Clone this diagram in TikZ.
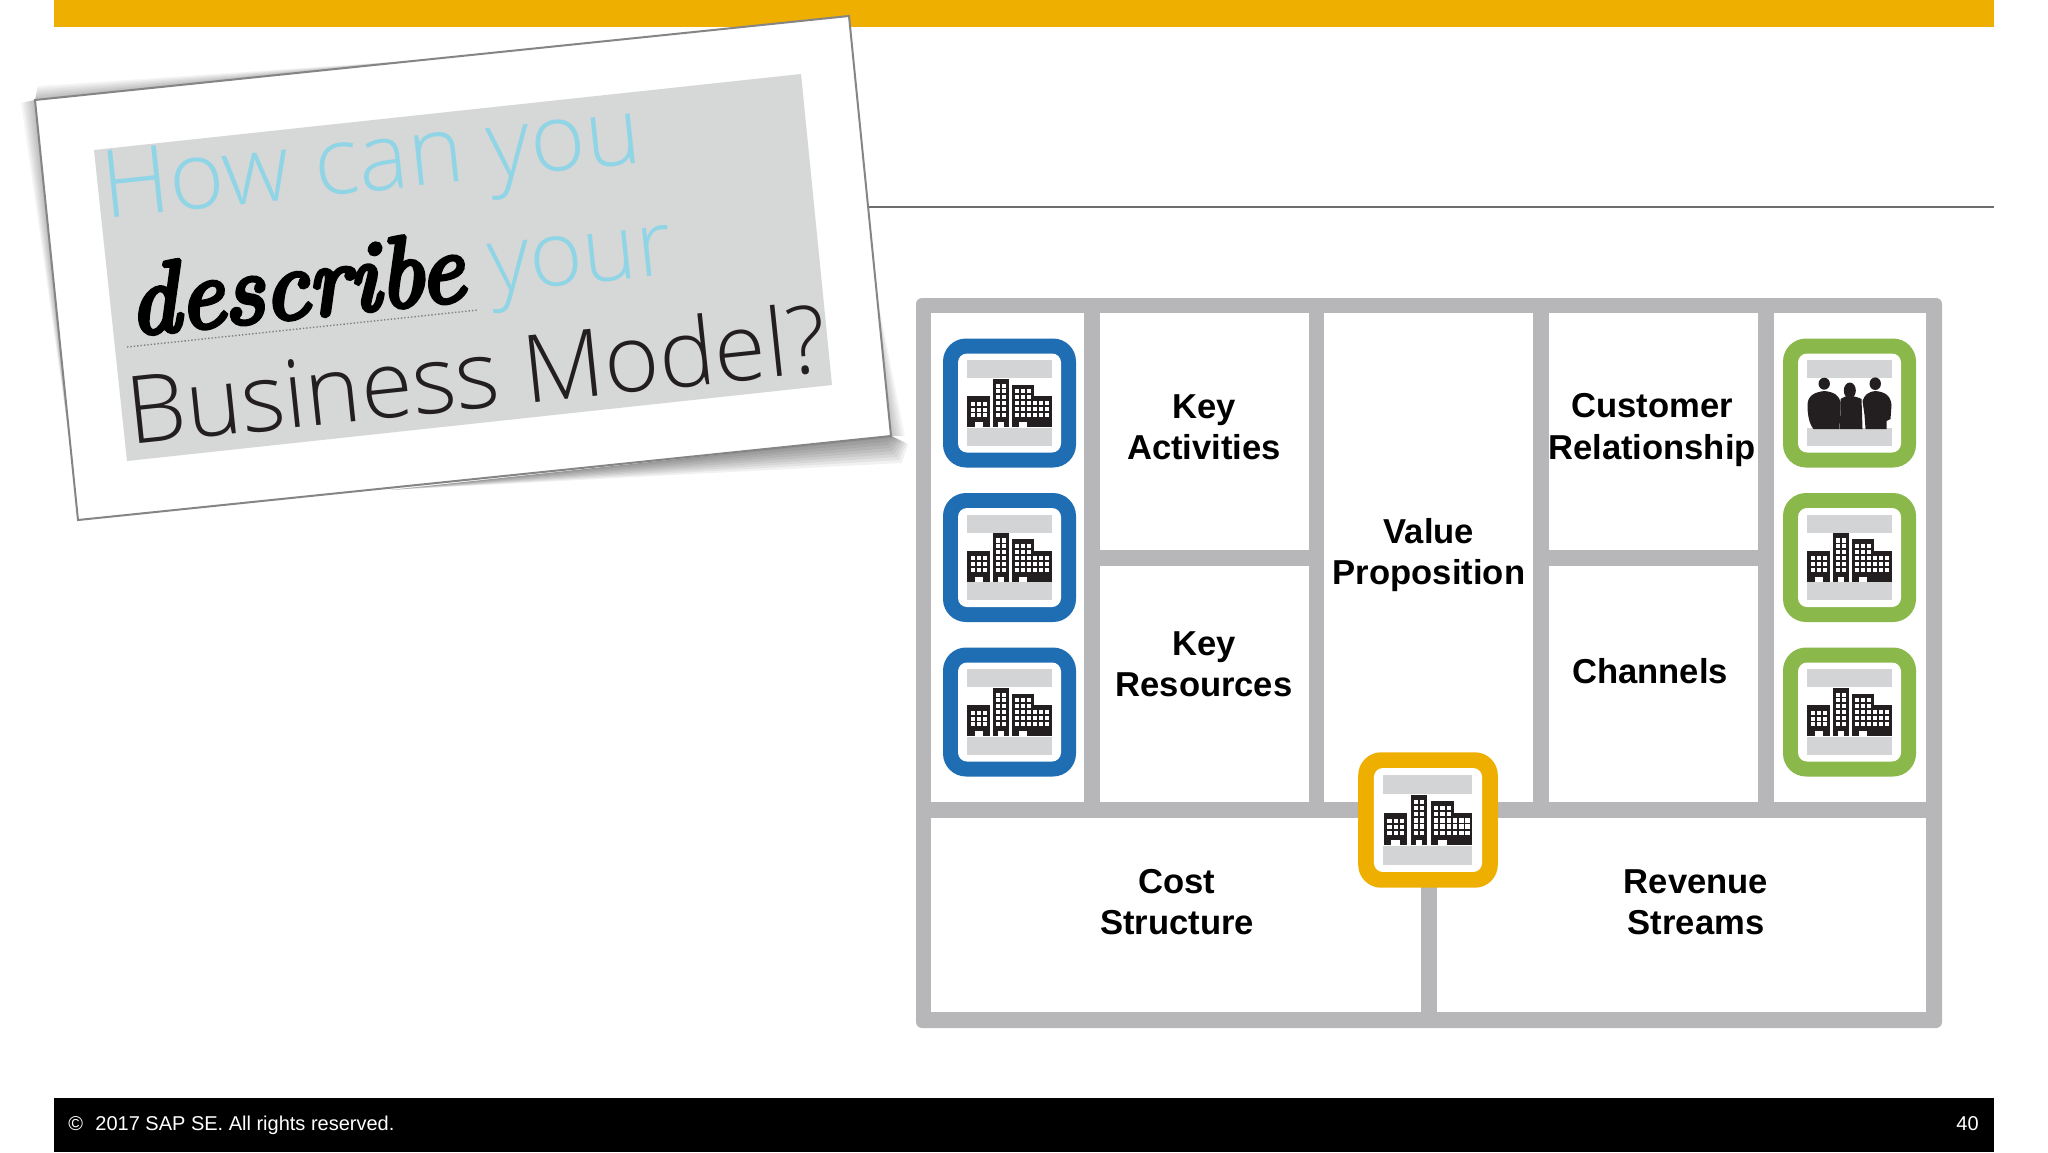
\documentclass[tikz,border=0pt]{standalone}
\usepackage{fontspec}
\setmainfont{Liberation Sans}
\newfontfamily\cardfont{Open Sans Light}
\newfontfamily\handfont[ItalicFeatures={FakeBold=5}]{Latin Modern Roman}
\definecolor{sapgold}{HTML}{EFAF00}
\definecolor{gridgray}{HTML}{B7B6B8}
\definecolor{bandgray}{HTML}{D3D4D5}
\definecolor{panelgray}{HTML}{D6D7D7}
\definecolor{inkdark}{HTML}{231F20}
\definecolor{sapblue}{HTML}{1F6EB4}
\definecolor{sapgreen}{HTML}{8AB84A}
\definecolor{cardsky}{HTML}{8FD5E6}
\tikzset{
  x=0.5pt,y=-0.5pt,
  celltext/.style={align=center,font=\bfseries\fontsize{17.3}{20.6}\selectfont,text=black,inner sep=0pt},
  cardtext/.style={anchor=base west,rotate=6,inner sep=0pt},
  foot/.style={text=white,inner sep=0pt,font=\fontsize{10}{12}\selectfont},
  cell/.style={fill=white},
  pics/iconframe/.style={code={
    \fill[#1,rounded corners=11.5pt] (-66.5,-64.5) rectangle (66.5,64.5);
    \fill[white,rounded corners=4.5pt] (-51.5,-49.5) rectangle (51.5,49.5);
    \fill[bandgray] (-42.5,-43) rectangle (42,-25);
    \fill[bandgray] (-42.5,24.5) rectangle (42,42.5);
  }},
  pics/bldg/.style={code={
    \fill[inkdark] (-42.3,-6.7) rectangle (-19.7,24);
    \fill[inkdark] (-16.3,-24.3) rectangle (-.7,24);
    \fill[inkdark] (2.7,-18.3) rectangle (24.3,24);
    \fill[inkdark] (24.3,-6.7) rectangle (42,24);
    \foreach \cx in {-36.7,-30.7,-24.7} \foreach \cy in {.7,6.7,12.3}
      \fill[white] (\cx-2.1,\cy-2.1) rectangle (\cx+2.1,\cy+2.1);
    \foreach \cx in {-11.3,-5.7} \foreach \cy in {-17,-11.7,-5.7,.3,6.3,12.3}
      \fill[white] (\cx-2.1,\cy-2.1) rectangle (\cx+2.1,\cy+2.1);
    \foreach \cx in {7.7,13.7,19.7} \foreach \cy in {-11.7,-5.7,.3,6.3,12.3}
      \fill[white] (\cx-2.1,\cy-2.1) rectangle (\cx+2.1,\cy+2.1);
    \foreach \cx in {25.7,31.7,37.7} \foreach \cy in {.3,6.3,12.3}
      \fill[white] (\cx-2.1,\cy-2.1) rectangle (\cx+2.1,\cy+2.1);
    \fill[white] (-35,19) rectangle (-26.3,24);
    \fill[white] (-11.3,19) rectangle (-5.7,24);
    \fill[white] (9.3,19) rectangle (17.7,24);
  }},
  pics/ppl/.style={code={
    \fill[inkdark] (-25.3,-19.3) ellipse [x radius=5.7,y radius=6];
    \fill[inkdark] (25.7,-19.3) ellipse [x radius=5.7,y radius=6.3];
    \fill[inkdark] (.3,-12.5) ellipse [x radius=6,y radius=8];
    \fill[inkdark] (-42,2) .. controls (-42,-8) and (-34,-11) .. (-25,-12) .. controls (-16,-11) and (-10,-8) .. (-9,0) -- (-10,26) -- (-36,26) .. controls (-41,20) and (-42,10) .. (-42,2) -- cycle;
    \fill[inkdark] (-9,-4) .. controls (-6,-6) and (-4,-7) .. (0,-7) .. controls (4,-7) and (8,-6) .. (12,-4) -- (13,26) -- (-9.5,26) -- cycle;
    \fill[inkdark] (13,-2) .. controls (15,-8) and (18,-11) .. (26,-12) .. controls (35,-11) and (41,-8) .. (42,2) -- (41,16) -- (37,18) -- (37,26) -- (16,26) -- (15,12) -- cycle;
  }}
}
\begin{document}
\begin{tikzpicture}
\useasboundingbox (0,0) rectangle (2048,1152);
\fill[white] (0,0) rectangle (2048,1152);
% header, rule, footer
\fill[sapgold] (54,0) rectangle (1994,27);
\draw[gray!85!black,line width=.6pt] (868,207) -- (1994,207);
\fill[black] (54,1098) rectangle (1994,1152);
\node[foot,anchor=base west] (copysign) at (68,1130) {©};
\node[foot,anchor=base west] (copyright) at (95,1130) {2017 SAP SE. All rights reserved.};
\node[foot,anchor=base east] (pagenum) at (1979,1130) {40};
% card shadow: bottom wedge, right side, top-left halo
\foreach \d in {3,6,...,27}
  \fill[black,opacity=.055] (390,490) -- (891,436) -- (892+\d*.6,436+\d*.3) -- (880+\d*.8,436+\d) -- cycle;
\foreach \d in {2,4,...,14}
  \fill[black,opacity=.035] (868,250) -- (891,436) -- (891+\d,436) -- cycle;
\foreach \d in {2,4,...,14}
  \fill[black,opacity=.04] (35,100) -- (68,430) -- (35-\d,100+\d*.2) -- cycle;
\foreach \d in {2,4,...,14}
  \fill[black,opacity=.04] (35,100) -- (420,60) -- (35+\d*.2,100-\d) -- cycle;
% card
\fill[white,draw=black!48,line width=1pt] (35,100) -- (849,16) -- (891,436) -- (78,520) -- cycle;
\fill[panelgray] (94,150) -- (801,74) -- (832,385) -- (127,461) -- cycle;
\node[cardtext,text=cardsky,font=\cardfont\fontsize{47}{54}\selectfont] (howcan) at (105,219) {How can you};
\node[cardtext,text=cardsky,font=\cardfont\fontsize{45.5}{54}\selectfont] (your) at (491,293) {your};
\node[cardtext,text=black,font=\handfont\itshape\fontsize{50}{60}\selectfont] (describe) at (131,335) {describe};
\node[cardtext,text=inkdark,font=\cardfont\fontsize{47}{54}\selectfont] (business) at (130,445) {Business Model?};
\draw[gray,line width=.7pt,densely dotted] (127,347) -- (478,310);
% grid
\fill[gridgray,rounded corners=3pt] (916,298) rectangle (1942,1028);
\foreach \xa/\xb in {931/1084,1100/1309,1324/1533,1549/1758,1774/1926}{
  \ifnum\xa=1324
    \fill[cell] (\xa,313) rectangle (\xb,802);
  \else
    \fill[cell] (\xa,313) rectangle (\xb,550);
    \fill[cell] (\xa,566) rectangle (\xb,802);
  \fi}
\fill[cell] (931,313) rectangle (1084,802);
\fill[cell] (1774,313) rectangle (1926,802);
\fill[cell] (931,818) rectangle (1421,1012);
\fill[cell] (1437,818) rectangle (1926,1012);
% labels
\node[celltext] (keyact) at (1204,427) {Key\\Activities};
\node[celltext] (keyres) at (1204,664) {Key\\Resources};
\node[celltext] (valprop) at (1429,555) {Value\\Proposition};
\node[celltext] (custrel) at (1652,430) {Customer\\Relationship};
\node[celltext] (channels) at (1650,671) {Channels};
\node[celltext] (cost) at (1177,902) {Cost\\Structure};
\node[celltext] (revenue) at (1696,902) {Revenue\\Streams};
% icons
\foreach \cy in {403,557.5,712}{
  \pic at (1009.5,\cy) {iconframe=sapblue};
  \pic at (1009.5,\cy) {bldg};
}
\pic at (1849.5,403) {iconframe=sapgreen};
\pic at (1849.5,403) {ppl};
\foreach \cy in {557.5,712}{
  \pic at (1849.5,\cy) {iconframe=sapgreen};
  \pic at (1849.5,\cy) {bldg};
}
\pic[scale=1.05] at (1428,820) {iconframe=sapgold};
\pic[scale=1.05] at (1428,820) {bldg};
\end{tikzpicture}
\end{document}
